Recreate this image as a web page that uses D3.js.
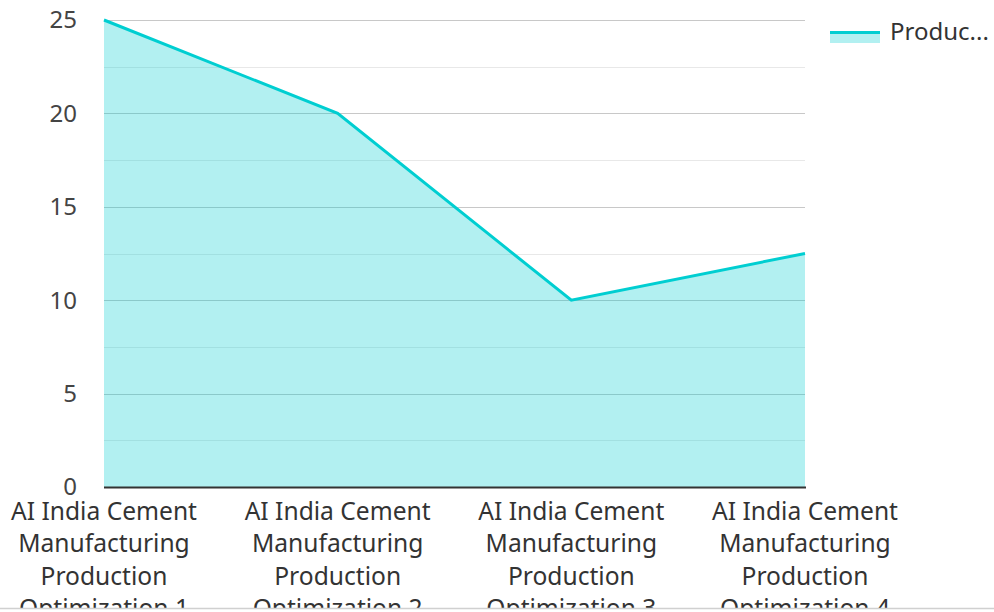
<!DOCTYPE html>
<html><head><meta charset="utf-8">
<script src="https://cdn.jsdelivr.net/npm/d3@7"></script>
<style>body{margin:0;background:#fff;overflow:hidden}svg{display:block;font-family:"Noto Sans",sans-serif}</style>
</head><body>
<svg id="c" width="994" height="612"></svg>
<script>
const categories = [
  "AI India Cement Manufacturing Production Optimization 1",
  "AI India Cement Manufacturing Production Optimization 2",
  "AI India Cement Manufacturing Production Optimization 3",
  "AI India Cement Manufacturing Production Optimization 4"
];
const labelLines = [
  ["AI India Cement","Manufacturing","Production","Optimization 1"],
  ["AI India Cement","Manufacturing","Production","Optimization 2"],
  ["AI India Cement","Manufacturing","Production","Optimization 3"],
  ["AI India Cement","Manufacturing","Production","Optimization 4"]
];
const seriesName = "Production Efficiency";
const values = [25, 20, 10, 12.5];
const yTicks = [0, 5, 10, 15, 20, 25];
const yMinor = [2.5, 7.5, 12.5, 17.5, 22.5];

const svg = d3.select("#c");
const x = d3.scalePoint().domain(categories).range([104, 805]);
const y = d3.scaleLinear().domain([0, 25]).range([487, 20]);

const g = svg.append("g");
g.selectAll(".mg").data(yMinor).join("line")
  .attr("x1", 104).attr("x2", 805)
  .attr("y1", d => Math.round(y(d)) + 0.5).attr("y2", d => Math.round(y(d)) + 0.5)
  .attr("stroke", "#e8e8e8").attr("stroke-width", 1);
g.selectAll(".Mg").data(yTicks.filter(d => d > 0)).join("line")
  .attr("x1", 104).attr("x2", 805)
  .attr("y1", d => Math.round(y(d)) + 0.5).attr("y2", d => Math.round(y(d)) + 0.5)
  .attr("stroke", "#c8c8c8").attr("stroke-width", 1);

const area = d3.area().x((d, i) => x(categories[i])).y0(y(0)).y1(d => y(d));
g.append("path").datum(values).attr("d", area)
  .attr("fill", "rgba(0,206,209,0.3)");
const line = d3.line().x((d, i) => x(categories[i])).y(d => y(d));
g.append("path").datum(values).attr("d", line)
  .attr("fill", "none").attr("stroke", "#00ced1").attr("stroke-width", 3)
  .attr("stroke-linejoin", "miter");

g.append("line").attr("x1", 104).attr("x2", 806).attr("y1", 487.5).attr("y2", 487.5)
  .attr("stroke", "#333").attr("stroke-width", 2);

g.selectAll(".yt").data(yTicks).join("text")
  .attr("x", 77).attr("y", d => y(d)).attr("dy", "0.35em")
  .attr("text-anchor", "end").attr("font-size", 24).attr("fill", "#444")
  .text(d => d);

const xl = g.selectAll(".xl").data(categories).join("text")
  .attr("text-anchor", "middle").attr("font-size", 24.6).attr("fill", "#333");
xl.each(function(d, i) {
  const t = d3.select(this);
  labelLines[i].forEach((s, j) => {
    t.append("tspan").attr("x", x(d)).attr("y", 520 + j * 32.3).text(s);
  });
});

svg.append("rect").attr("x", 0).attr("y", 608).attr("width", 994).attr("height", 4).attr("fill", "#fff");
svg.append("line").attr("x1", 0).attr("x2", 994).attr("y1", 608.5).attr("y2", 608.5)
  .attr("stroke", "#d0d0d0").attr("stroke-width", 1.5);

const lg = svg.append("g");
lg.append("rect").attr("x", 830).attr("y", 33).attr("width", 50).attr("height", 10)
  .attr("fill", "rgba(0,206,209,0.3)");
lg.append("line").attr("x1", 830).attr("x2", 880).attr("y1", 32.5).attr("y2", 32.5)
  .attr("stroke", "#00ced1").attr("stroke-width", 3);
lg.append("text").attr("x", 890).attr("y", 32).attr("dy", "0.35em")
  .attr("font-size", 24).attr("fill", "#333").text("Produc...")
  .append("title").text(seriesName);
</script>
</body></html>
